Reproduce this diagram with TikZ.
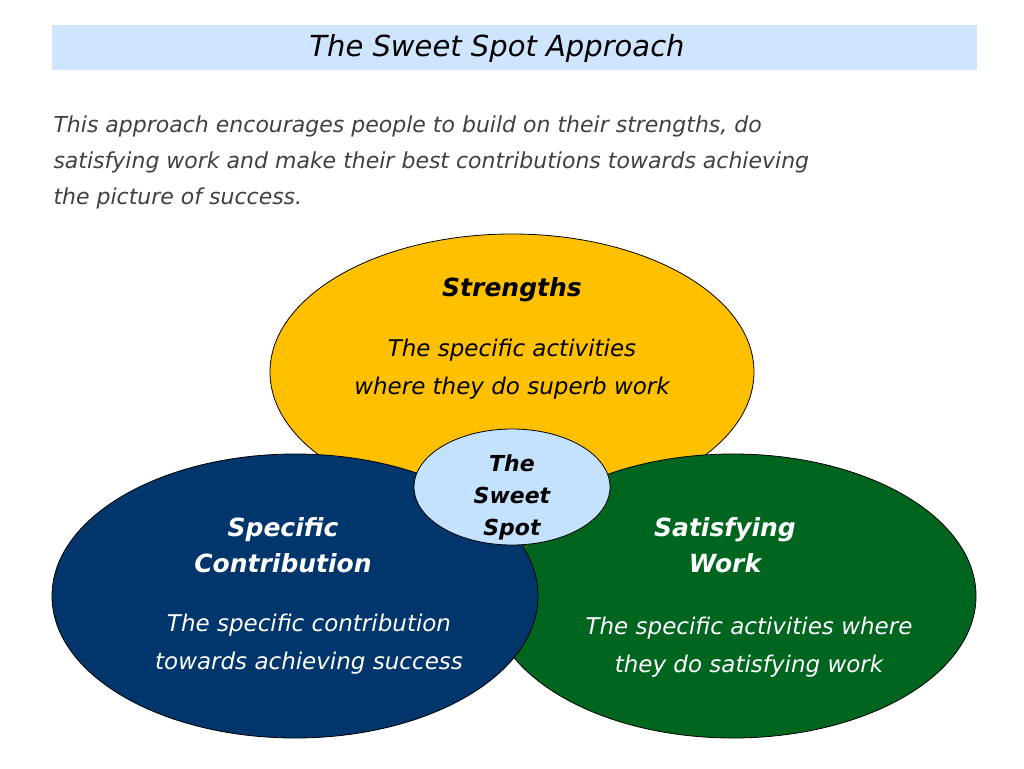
\documentclass[tikz,border=0pt]{standalone}
\usepackage{fontspec}
\setmainfont{DejaVu Sans}
\usetikzlibrary{shapes.geometric}
\definecolor{barblue}{HTML}{CFE5FD}
\definecolor{sunyellow}{HTML}{FFC000}
\definecolor{deepnavy}{HTML}{00366B}
\definecolor{deepgreen}{HTML}{00661F}
\definecolor{spotblue}{HTML}{C4E2FD}
\definecolor{textgray}{HTML}{404040}
\tikzset{
  circlebox/.style={draw=black, line width=0.8pt, ellipse, inner sep=0pt},
  headtext/.style={font=\fontsize{25}{36}\selectfont\bfseries\itshape, align=center},
  bodytext/.style={font=\fontsize{23}{38}\selectfont\itshape, align=center}
}
\begin{document}
\begin{tikzpicture}[x=1pt, y=-1pt]
        \useasboundingbox (0,0) rectangle (1024,768);

        % Title bar
        \fill[barblue] (52,25) rectangle (977,70);
        \node[font=\fontsize{29}{34}\selectfont\itshape] (title) at (497,48) {The Sweet Spot Approach};

        % Intro text
        \node[anchor=north west, align=left, text=textgray,
              font=\fontsize{22}{36}\selectfont\itshape] (intro) at (50,112)
        {This approach encourages people to build on their strengths, do\\
         satisfying work and make their best contributions towards achieving\\
         the picture of success.};

        % Circles
        \node[circlebox, fill=sunyellow, minimum width=484, minimum height=276] (strengths) at (512,372) {};
        \node[circlebox, fill=deepgreen, minimum width=486, minimum height=284] (satisfying) at (733,596) {};
        \node[circlebox, fill=deepnavy, minimum width=486, minimum height=284] (contribution) at (295,596) {};
        \node[circlebox, fill=spotblue, minimum width=196, minimum height=116] (spot) at (512,487) {};

        % Labels
        \node[headtext] (strengthshead) at (512,290) {Strengths};
        \node[bodytext] (strengthsbody) at (512,369) {The specific activities\\where they do superb work};
        \node[headtext, text=white] (contribhead) at (283,545) {Specific\\Contribution};
        \node[bodytext, text=white] (contribbody) at (309,644) {The specific contribution\\towards achieving success};
        \node[headtext, text=white] (satishead) at (725,545) {Satisfying\\Work};
        \node[bodytext, text=white] (satisbody) at (749,647) {The specific activities where\\they do satisfying work};
        \node[headtext, font=\fontsize{22}{32}\selectfont\bfseries\itshape] (spottext) at (512,497) {The\\Sweet\\Spot};
    \end{tikzpicture}
\end{document}
